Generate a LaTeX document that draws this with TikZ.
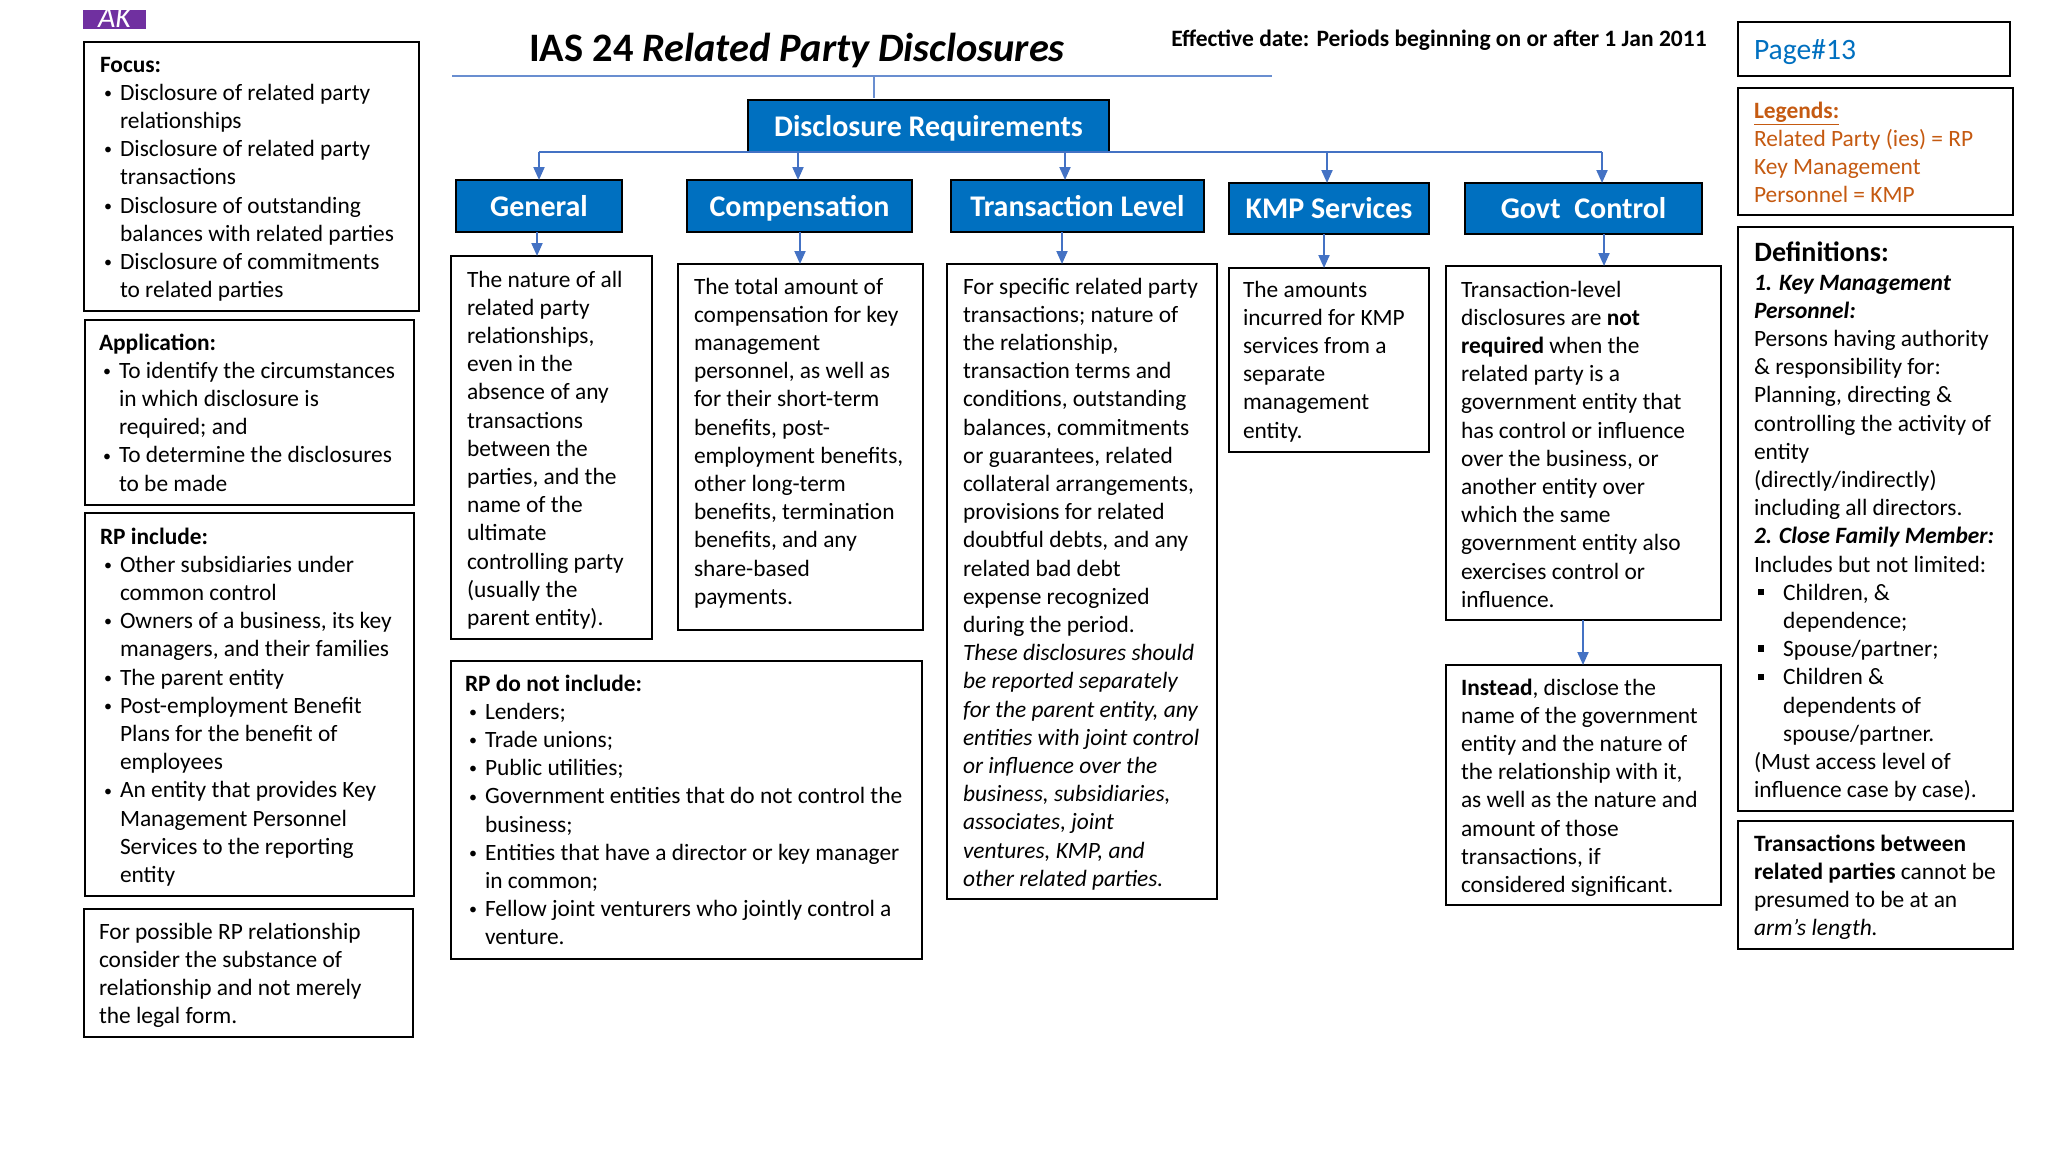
\documentclass[tikz,border=0pt]{standalone}
\usepackage{fontspec}
\setmainfont{Carlito}
\usetikzlibrary{arrows.meta}
\newcommand\bu{\makebox[10pt][l]{\hspace{2pt}\raisebox{.9pt}{\fontsize{8}{8}\selectfont •}}}
\newcommand\ind{\hspace*{10pt}}
\newcommand\sbu{\makebox[14.6pt][l]{\hspace{2pt}\rule[2.4pt]{3.2pt}{3.2pt}}}
\newcommand\sind{\hspace*{14.6pt}}
\newcommand\fs{\fontsize{11.7}{14.1}\selectfont}
\newcommand\stt{\rule{0pt}{10pt}}
\tikzset{
 x=0.5pt,y=-0.5pt,
 box/.style={draw=black,line width=1.2pt,fill=white,inner sep=0pt,outer sep=0pt,anchor=north west},
 head/.style={draw=black,line width=1.4pt,fill=headblue,text=white,inner sep=0pt,outer sep=0pt,anchor=north west,text height=12pt,text depth=1.6pt,font=\fontsize{15}{17}\selectfont\bfseries},
 body/.style={inner sep=0pt,outer sep=0pt,anchor=north west,align=left,yshift=10pt,font=\fs},
 arr/.style={draw=linkblue,line width=1pt,-{Triangle[length=6.5pt,width=5.5pt]}},
 lnk/.style={draw=linkblue,line width=.8pt},
 rule/.style={draw=linkblue!80,line width=.55pt},
}
\definecolor{headblue}{HTML}{0070C0}
\definecolor{linkblue}{HTML}{4472C4}
\definecolor{legend}{HTML}{C55A11}
\definecolor{logo}{HTML}{7030A0}
% name, x1,y1,x2,y2
\newcommand\bx[5]{\node[box,minimum width={(#4-#2)*0.5pt},minimum height={(#5-#3)*0.5pt}] (#1) at (#2,#3) {};}
\newcommand\hd[6]{\node[head,minimum width={(#4-#2)*0.5pt},minimum height={(#5-#3)*0.5pt}] (#1) at (#2,#3) {#6};}
\begin{document}
\begin{tikzpicture}
\useasboundingbox[fill=white] (0,0) rectangle (2048,1152);
% logo
\node[fill=logo,text=white,inner sep=0pt,outer sep=0pt,anchor=north west,minimum width=31.5pt,minimum height=9.5pt,text height=7.5pt,text depth=0pt,font=\fontsize{15}{15}\selectfont\itshape] (logo) at (83,10) {AK};
% title
\node[inner sep=0pt,anchor=base,font=\fontsize{20.2}{22}\selectfont\bfseries] (title) at (797,61) {IAS 24 \textit{Related Party Disclosures}};
\node[inner sep=0pt,anchor=base east,font=\fontsize{11.75}{14}\selectfont\bfseries] (eff) at (1707,46) {Effective date: Periods beginning on or after 1 Jan 2011};
\coordinate (rl) at (452,76); \coordinate (rr) at (1272,76); \coordinate (rm) at (874,76); \coordinate (rb) at (874,98);
\draw[rule] (rl) -- (rr);
\draw[rule] (rm) -- (rb);
% headers
\hd{drq}{748}{100}{1109}{152}{Disclosure Requirements}
\hd{gen}{456}{180}{622}{232}{General}
\hd{cmp}{687}{180}{912}{232}{Compensation}
\hd{trn}{951}{180}{1204}{232}{Transaction Level}
\hd{kmp}{1229}{183}{1429}{234}{KMP Services}
\hd{gov}{1465}{183}{1702}{234}{Govt\ \ Control}
% boxes left
\bx{foc}{84}{42}{419}{311}
\node[body] (foct) at (100,72) {\stt\textbf{Focus:}\\
\bu Disclosure of related party\\ \ind relationships\\
\bu Disclosure of related party\\ \ind transactions\\
\bu Disclosure of outstanding\\ \ind balances with related parties\\
\bu Disclosure of commitments\\ \ind to related parties};
\bx{app}{85}{320}{414}{505}
\node[body] (appt) at (99,350) {\stt\textbf{Application:}\\
\bu To identify the circumstances\\ \ind in which disclosure is\\ \ind required; and\\
\bu To determine the disclosures\\ \ind to be made};
\bx{inc}{85}{513}{414}{896}
\node[body] (inct) at (100,544) {\stt\textbf{RP include:}\\
\bu Other subsidiaries under\\ \ind common control\\
\bu Owners of a business, its key\\ \ind managers, and their families\\
\bu The parent entity\\
\bu Post-employment Benefit\\ \ind Plans for the benefit of\\ \ind employees\\
\bu An entity that provides Key\\ \ind Management Personnel\\ \ind Services to the reporting\\ \ind entity};
\bx{pos}{84}{909}{413}{1037}
\node[body] (post) at (99,939) {\stt For possible RP relationship\\consider the substance of\\relationship and not merely\\the legal form.};
% columns
\bx{gent}{451}{256}{652}{639}
\node[body] (gentt) at (467,287) {\stt The nature of all\\related party\\relationships,\\even in the\\absence of any\\transactions\\between the\\parties, and the\\name of the\\ultimate\\controlling party\\(usually the\\parent entity).};
\bx{cmpt}{678}{264}{923}{630}
\node[body] (cmptt) at (694,294) {\stt The total amount of\\compensation for key\\management\\personnel, as well as\\for their short-term\\benefits, post-\\employment benefits,\\other long-term\\benefits, termination\\benefits, and any\\share-based\\payments.};
\bx{trnt}{947}{264}{1217}{899}
\node[body] (trntt) at (963,294) {\stt For specific related party\\transactions; nature of\\the relationship,\\transaction terms and\\conditions, outstanding\\balances, commitments\\or guarantees, related\\collateral arrangements,\\provisions for related\\doubtful debts, and any\\related bad debt\\expense recognized\\during the period.\\
\textit{These disclosures should}\\\textit{be reported separately}\\\textit{for the parent entity, any}\\\textit{entities with joint control}\\\textit{or influence over the}\\\textit{business, subsidiaries,}\\\textit{associates, joint}\\\textit{ventures, KMP, and}\\\textit{other related parties.}};
\bx{kmpt}{1229}{268}{1429}{452}
\node[body] (kmptt) at (1243,297) {\stt The amounts\\incurred for KMP\\services from a\\separate\\management\\entity.};
\bx{govt}{1446}{266}{1721}{620}
\node[body] (govtt) at (1461,297) {\stt Transaction-level\\disclosures are \textbf{not}\\\textbf{required} when the\\related party is a\\government entity that\\has control or influence\\over the business, or\\another entity over\\which the same\\government entity also\\exercises control or\\influence.};
\bx{ins}{1446}{665}{1721}{905}
\node[body] (inst) at (1461,695) {\stt\textbf{Instead}, disclose the\\name of the government\\entity and the nature of\\the relationship with it,\\as well as the nature and\\amount of those\\transactions, if\\considered significant.};
\bx{exc}{451}{661}{922}{959}
\node[body] (exct) at (465,691) {\stt\textbf{RP do not include:}\\
\bu Lenders;\\\bu Trade unions;\\\bu Public utilities;\\
\bu Government entities that do not control the\\\ind business;\\
\bu Entities that have a director or key manager\\\ind in common;\\
\bu Fellow joint venturers who jointly control a\\\ind venture.};
% right
\bx{pag}{1738}{22}{2010}{76}
\node[body,font=\fontsize{14.8}{16}\selectfont,text=headblue] (pagt) at (1754,59) {\stt Page\#13};
\bx{leg}{1738}{88}{2013}{215}
\node[body,text=legend] (legt) at (1754,118) {\stt\textbf{\underline{Legends:}}\\Related Party (ies) = RP\\Key Management\\Personnel = KMP};
\bx{def}{1738}{227}{2013}{811}
\node[body] (deft) at (1754,290) {\stt\textit{\textbf{1. Key Management}}\\\textit{\textbf{Personnel:}}\\Persons having authority\\\& responsibility for:\\Planning, directing \&\\controlling the activity of\\entity\\(directly/indirectly)\\including all directors.\\\textit{\textbf{2. Close Family Member:}}\\Includes but not limited:\\
\sbu Children, \&\\\sind dependence;\\\sbu Spouse/partner;\\\sbu Children \&\\\sind dependents of\\\sind spouse/partner.\\(Must access level of\\influence case by case).};
\node[inner sep=0pt,anchor=base west,font=\fontsize{14}{16}\selectfont\bfseries] (deft0) at (1754,261) {Definitions:};
\bx{trb}{1738}{821}{2013}{949}
\node[body] (trbt) at (1754,851) {\stt\textbf{Transactions between}\\\textbf{related parties} cannot be\\presumed to be at an\\\textit{arm’s length.}};
% connectors
\draw[lnk] (539,0 |- drq.south) -- (1602,0 |- drq.south);
\draw[arr] (539,0 |- drq.south) -- (539,0 |- gen.north);
\draw[arr] (798,0 |- drq.south) -- (798,0 |- cmp.north);
\draw[arr] (1065,0 |- drq.south) -- (1065,0 |- trn.north);
\draw[arr] (1327,0 |- drq.south) -- (1327,0 |- kmp.north);
\draw[arr] (1602,0 |- drq.south) -- (1602,0 |- gov.north);
\draw[arr] (537,0 |- gen.south) -- (537,0 |- gent.north);
\draw[arr] (800,0 |- cmp.south) -- (800,0 |- cmpt.north);
\draw[arr] (1062,0 |- trn.south) -- (1062,0 |- trnt.north);
\draw[arr] (1324,0 |- kmp.south) -- (1324,0 |- kmpt.north);
\draw[arr] (1604,0 |- gov.south) -- (1604,0 |- govt.north);
\draw[arr] (1583,0 |- govt.south) -- (1583,0 |- ins.north);
\end{tikzpicture}
\end{document}
